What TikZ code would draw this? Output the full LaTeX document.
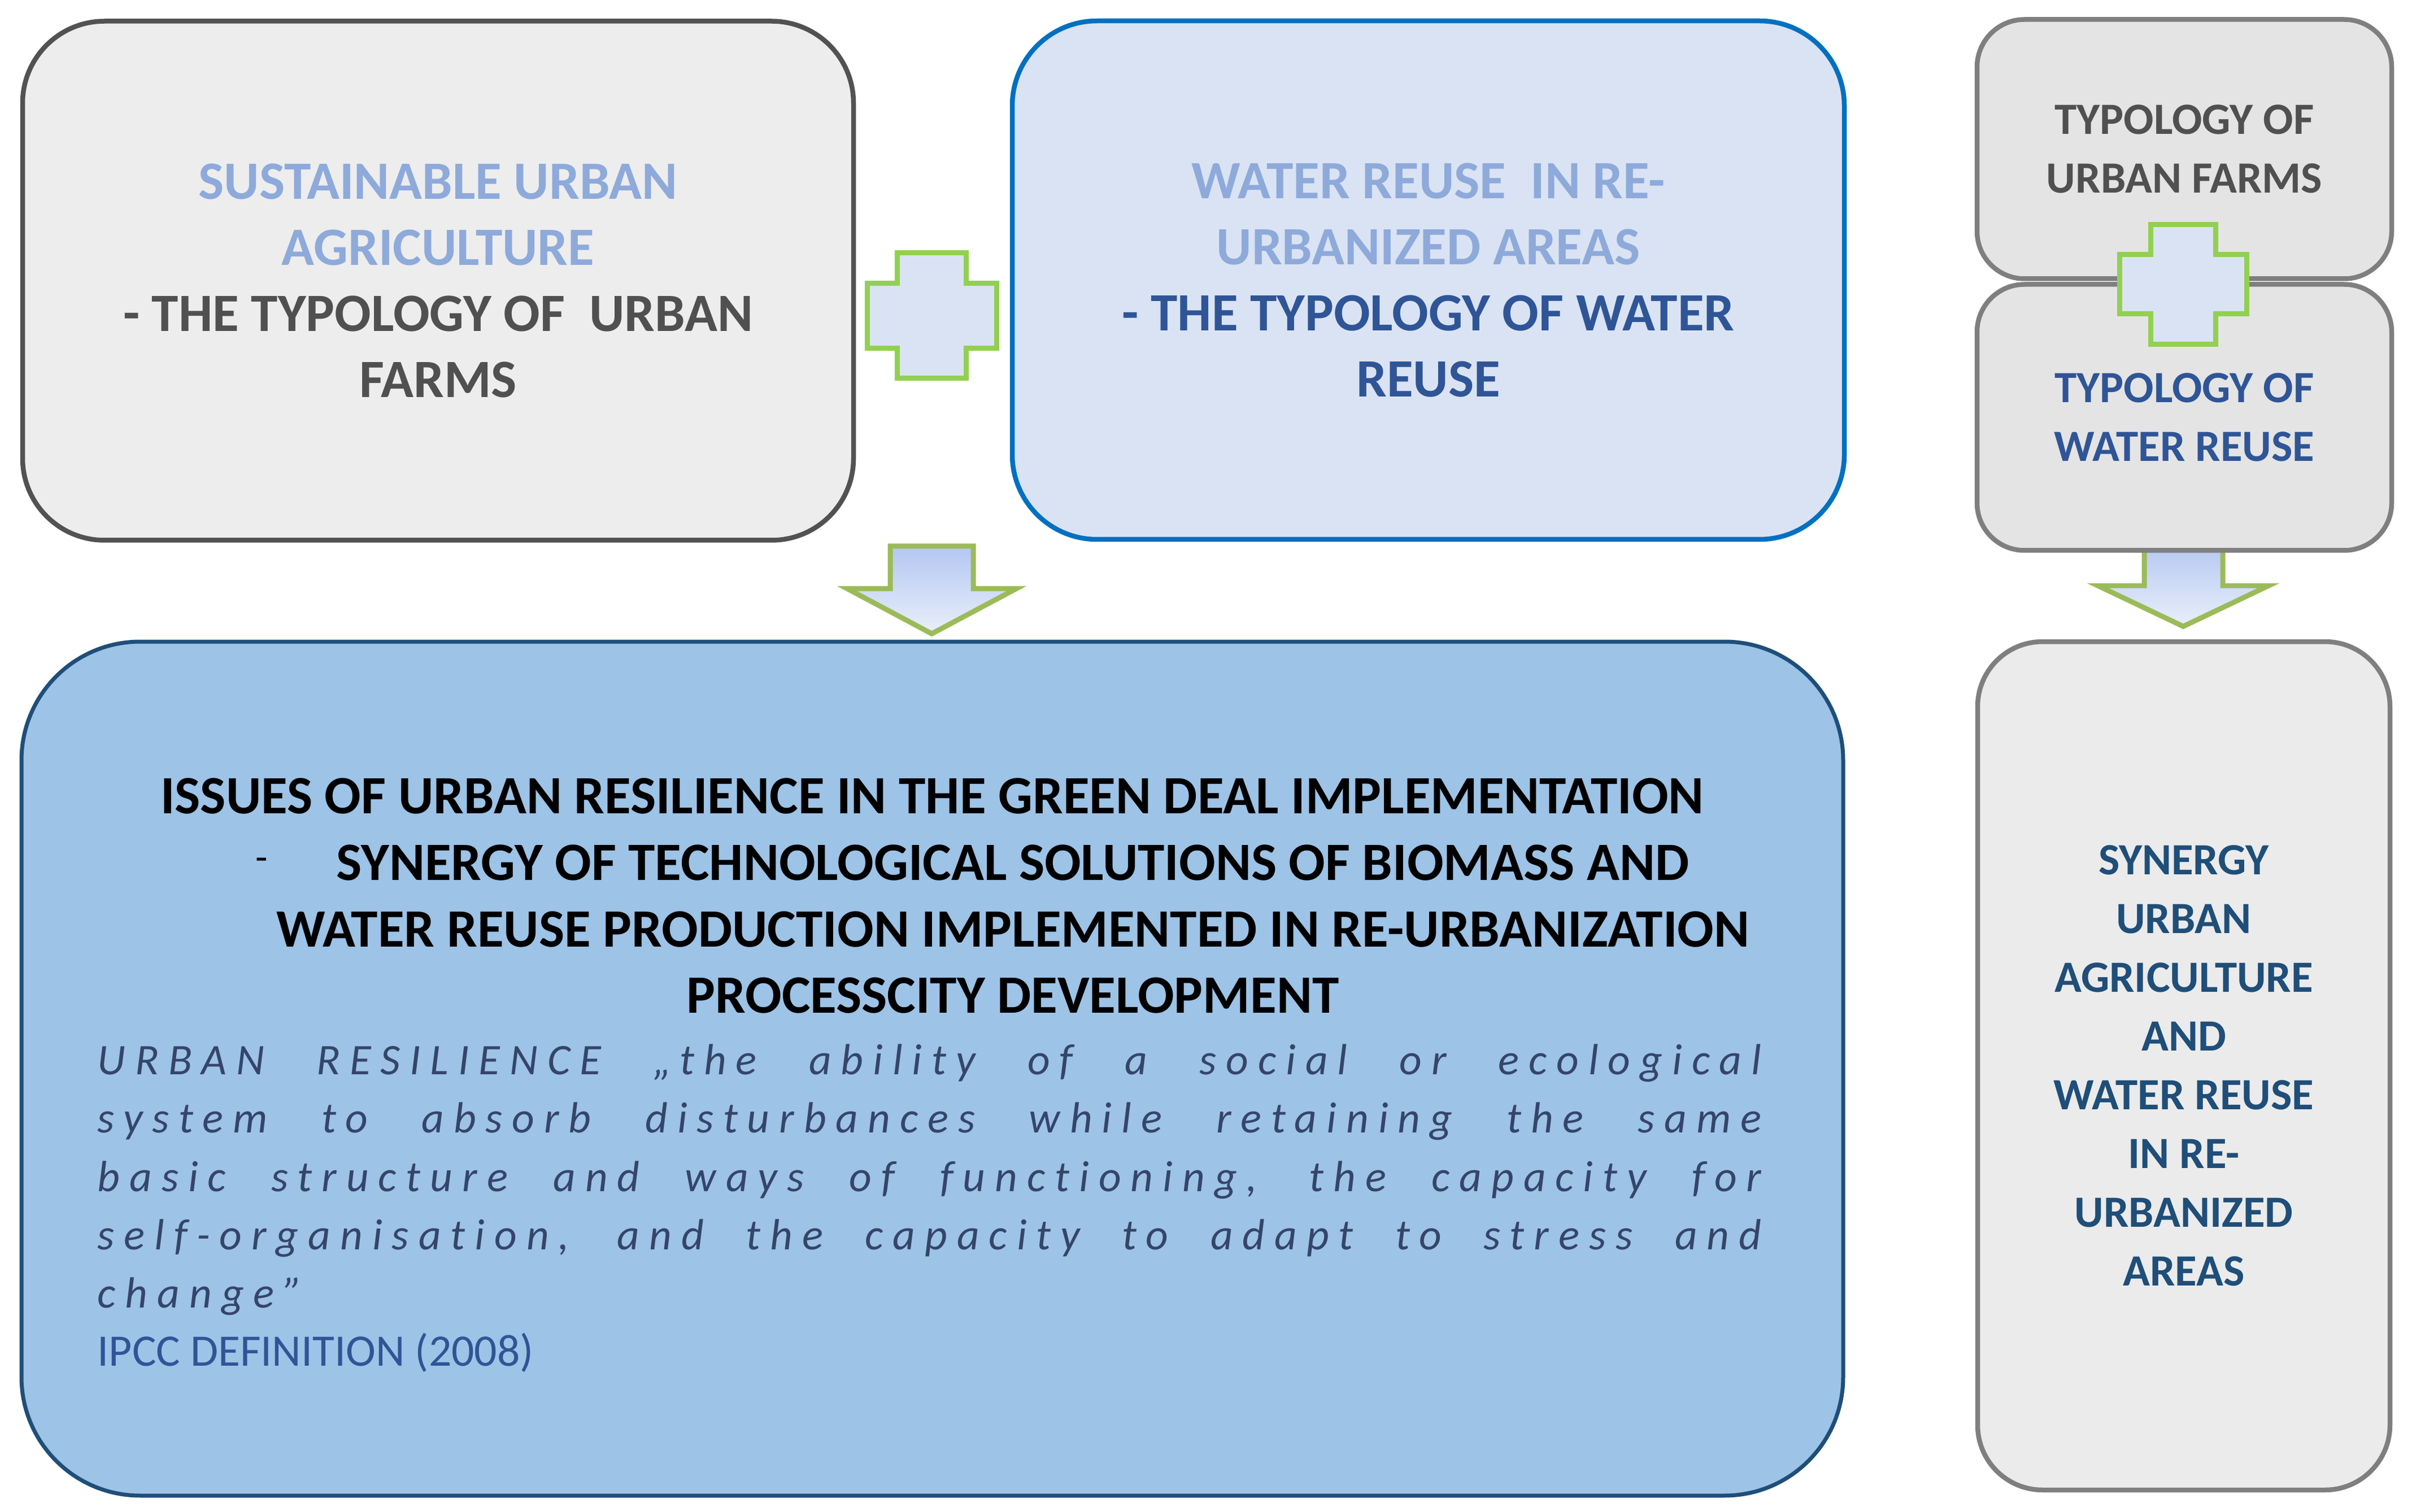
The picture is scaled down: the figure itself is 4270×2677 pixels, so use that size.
\documentclass[tikz,border=0pt]{standalone}
\usepackage{fontspec}
\setmainfont{Carlito}
\newfontfamily\spacedfont[LetterSpace=22,Ligatures=NoCommon]{Carlito}
\usepackage{xcolor}
\usetikzlibrary{calc}
\definecolor{greyfill}{HTML}{EDEDED}
\definecolor{greyline}{HTML}{525252}
\definecolor{paleblue}{HTML}{8EAADB}
\definecolor{darktext}{HTML}{505050}
\definecolor{bluefill}{HTML}{DAE3F3}
\definecolor{blueline}{HTML}{0070C0}
\definecolor{navytext}{HTML}{2F5597}
\definecolor{deepfill}{HTML}{9DC3E6}
\definecolor{deepline}{HTML}{1F4E79}
\definecolor{quotetext}{HTML}{35456A}
\definecolor{sidefill}{HTML}{E4E4E4}
\definecolor{sidefillb}{HTML}{EBEBEB}
\definecolor{sideline}{HTML}{7F7F7F}
\definecolor{plusgreen}{HTML}{92D050}
\definecolor{arrowgreen}{HTML}{9BBB59}
\definecolor{shadetop}{HTML}{B4C7F2}
\definecolor{shadebot}{HTML}{E9EFFA}
\tikzset{panel/.style={draw, rounded corners=#1, line width=0.85mm, align=center, inner sep=0pt}}
\tikzset{plussign/.style={draw=plusgreen, fill=bluefill, line width=0.9mm}}
\tikzset{downarrow/.style={draw=arrowgreen, top color=shadetop, bottom color=shadebot, line width=0.9mm}}
\def\headfont{\fontsize{27.2}{33.3}\selectfont\bfseries}
\def\sidefont{\fontsize{22.5}{29.6}\selectfont\bfseries}
\def\quotefont{\spacedfont\itshape\fontsize{22}{29.4}\selectfont}

\begin{document}
\begin{tikzpicture}[x=0.1mm,y=-0.1mm]
  \useasboundingbox (0,0) rectangle (4270,2677);

  % Arrow behind the side boxes
  \coordinate (tip2) at (3865,1109);
  \draw[downarrow] ($(tip2)+(-69,-149)$) -- ($(tip2)+(-69,-72)$) -- ($(tip2)+(-151,-72)$) -- (tip2)
    -- ($(tip2)+(151,-72)$) -- ($(tip2)+(70,-72)$) -- ($(tip2)+(70,-149)$) -- cycle;

  % Top boxes
  \node[panel=1.45cm, fill=greyfill, draw=greyline, minimum width=14.71cm, minimum height=9.19cm,
    font=\headfont, text=darktext] (agri) at (775.5,497)
    {\textcolor{paleblue}{SUSTAINABLE URBAN}\\ \textcolor{paleblue}{AGRICULTURE}\\ - THE TYPOLOGY OF~ URBAN\\ FARMS};
  \node[panel=1.5cm, fill=bluefill, draw=blueline, minimum width=14.73cm, minimum height=9.18cm,
    font=\headfont, text=navytext] (water) at (2528.5,496)
    {\textcolor{paleblue}{WATER REUSE~ IN RE-}\\ \textcolor{paleblue}{URBANIZED AREAS}\\ - THE TYPOLOGY OF WATER\\ REUSE};

  % Side boxes
  \node[panel=0.84cm, fill=sidefill, draw=sideline, minimum width=7.34cm, minimum height=4.59cm,
    font=\sidefont, text=darktext] (farms) at (3867,264) {TYPOLOGY OF\\ URBAN FARMS};
  \node[panel=0.84cm, fill=sidefill, draw=sideline, minimum width=7.34cm, minimum height=4.71cm,
    font=\sidefont, text=navytext] (reuse) at (3867,739) {TYPOLOGY OF\\ WATER REUSE};
  \node[panel=1.15cm, fill=sidefillb, draw=sideline, minimum width=7.3cm, minimum height=15.02cm,
    font=\sidefont, text=deepline] (synergy) at (3866,1887)
    {SYNERGY\\ URBAN\\ AGRICULTURE\\ AND\\ WATER REUSE\\ IN RE-\\ URBANIZED\\ AREAS};

  % Plus signs
  \coordinate (plus1) at (1649.5,559);
  \draw[plussign, shift={(plus1)}] (-61,-111) -- (61,-111) -- (61,-57) -- (114.5,-57) -- (114.5,58)
    -- (61,58) -- (61,111) -- (-61,111) -- (-61,58) -- (-114.5,58) -- (-114.5,-57) -- (-61,-57) -- cycle;
  \coordinate (plus2) at (3864.5,504);
  \draw[plussign, shift={(plus2)}] (-57.5,-106) -- (57.5,-106) -- (57.5,-53) -- (112.5,-53) -- (112.5,52)
    -- (57.5,52) -- (57.5,106) -- (-57.5,106) -- (-57.5,52) -- (-112.5,52) -- (-112.5,-53) -- (-57.5,-53) -- cycle;

  % Arrow into the main box
  \coordinate (tip1) at (1649.5,1122);
  \draw[downarrow] ($(tip1)+(-73.5,-155)$) -- ($(tip1)+(-73.5,-80)$) -- ($(tip1)+(-150,-80)$) -- (tip1)
    -- ($(tip1)+(150,-80)$) -- ($(tip1)+(73.5,-80)$) -- ($(tip1)+(73.5,-155)$) -- cycle;

  % Main box
  \node[panel=2.1cm, fill=deepfill, draw=deepline, line width=0.7mm, minimum width=32.25cm,
    minimum height=15.12cm] (issues) at (1650.5,1892) {};
  \node[font=\headfont, anchor=base] (title) at (1650,1440)
    {ISSUES OF URBAN RESILIENCE IN THE GREEN DEAL IMPLEMENTATION};
  \node[font=\headfont, align=center] (solutions) at (1793,1645)
    {SYNERGY OF TECHNOLOGICAL SOLUTIONS OF BIOMASS AND\\
     WATER REUSE PRODUCTION IMPLEMENTED IN RE-URBANIZATION\\
     PROCESSCITY DEVELOPMENT};
  \node[font=\fontsize{20}{24}\selectfont] (dash) at (463,1530) {-};
  \node[anchor=north west, text width=29.46cm, align=justify, inner sep=0pt, font=\quotefont,
    text=quotetext] (quote) at (172,1848)
    {URBAN RESILIENCE „the ability of a social or ecological\linebreak
     system to absorb disturbances while retaining the same\linebreak
     basic structure and ways of functioning, the capacity for\linebreak
     self-organisation, and the capacity to adapt to stress and\linebreak
     change”};
  \node[anchor=base west, inner sep=0pt, font=\fontsize{22.7}{29.4}\selectfont, text=navytext]
    (ipcc) at (172,2418) {IPCC DEFINITION (2008)};
\end{tikzpicture}
\end{document}
